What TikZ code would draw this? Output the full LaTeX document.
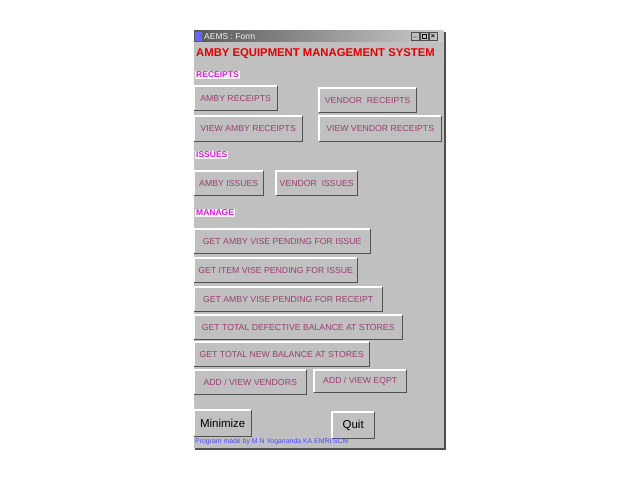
\documentclass[tikz,border=0pt]{standalone}
\usepackage{fontspec}
\setmainfont{Liberation Sans}
\definecolor{formbg}{HTML}{C0C0C0}
\definecolor{btntxt}{HTML}{9A4070}
\definecolor{magtxt}{HTML}{E020E0}
\definecolor{shadow}{HTML}{505050}
\begin{document}
\begin{tikzpicture}[x=1pt,y=-1pt,
  btn/.style={anchor=north west,inner sep=0pt,fill=formbg,
    text=btntxt,font=\fontsize{8.7}{9}\selectfont,align=center},
  bigbtn/.style={btn,text=black,font=\fontsize{11.5}{12}\selectfont},
  lbl/.style={anchor=west,inner sep=1pt,fill=white!80!formbg,text=magtxt,font=\bfseries\fontsize{8.5}{9}\selectfont}]
\useasboundingbox (0,0) rectangle (638,478);
\fill[white] (0,0) rectangle (638,478);
% window
\fill[shadow] (195,32) rectangle (446,450);
\fill[formbg] (193,30) rectangle (444,448);
\draw[white] (193,448)--(193,30)--(444,30);
\shade[left color=gray!70!black,right color=gray!40] (194,31) rectangle (443,42);
\node[anchor=west,inner sep=0pt,text=white!90!gray,font=\fontsize{8.5}{9}\selectfont] (title) at (204,36.5) {AEMS : Form};
\fill[blue!60!white] (195,32) rectangle (202,41);
\foreach \bx in {411,420,429}{
  \draw[fill=formbg,draw=black!70] (\bx,32.5) rectangle (\bx+8,40.5);}
\node[font=\fontsize{6}{6}\selectfont,inner sep=0pt] (mn) at (415,37) {\_};
\node[draw=black,inner sep=0pt,minimum width=4pt,minimum height=4pt] (mx) at (424,36.5) {};
\node[font=\bfseries\fontsize{7}{7}\selectfont,inner sep=0pt] (cl) at (433,36.5) {×};
\node[anchor=west,inner sep=0pt,text=red!90!black,font=\bfseries\fontsize{11.3}{12}\selectfont] (head) at (196,54) {AMBY EQUIPMENT MANAGEMENT SYSTEM};
\node[lbl] (rc) at (195,75) {RECEIPTS};
\node[lbl] (is) at (195,155) {ISSUES};
\node[lbl] (mg) at (195,213) {MANAGE};
\node[btn,minimum width=83pt,minimum height=24pt] (b1) at (194,86) {AMBY RECEIPTS};
\node[btn,minimum width=97pt,minimum height=24pt] (b2) at (319,88) {VENDOR\ \ RECEIPTS};
\node[btn,minimum width=108pt,minimum height=25pt] (b3) at (194,116) {VIEW AMBY RECEIPTS};
\node[btn,minimum width=122pt,minimum height=25pt] (b4) at (319,116) {VIEW VENDOR RECEIPTS};
\node[btn,minimum width=69pt,minimum height=24pt] (b5) at (194,171) {AMBY ISSUES};
\node[btn,minimum width=81pt,minimum height=24pt] (b6) at (276,171) {VENDOR\ \ ISSUES};
\node[btn,minimum width=176pt,minimum height=24pt] (b7) at (194,229) {GET AMBY VISE PENDING FOR ISSUE};
\node[btn,minimum width=163pt,minimum height=24pt] (b8) at (194,258) {GET ITEM VISE PENDING FOR ISSUE};
\node[btn,minimum width=188pt,minimum height=24pt] (b9) at (194,287) {GET AMBY VISE PENDING FOR RECEIPT};
\node[btn,minimum width=208pt,minimum height=24pt] (b10) at (194,315) {GET TOTAL DEFECTIVE BALANCE AT STORES};
\node[btn,minimum width=175pt,minimum height=24pt] (b11) at (194,342) {GET TOTAL NEW BALANCE AT STORES};
\node[btn,minimum width=112pt,minimum height=24pt] (b12) at (194,370) {ADD / VIEW VENDORS};
\node[btn,minimum width=92pt,minimum height=22pt] (b13) at (314,370) {ADD / VIEW EQPT};
\node[bigbtn,minimum width=57pt,minimum height=26pt] (b14) at (194,410) {Minimize};
\node[bigbtn,minimum width=42pt,minimum height=26pt] (b15) at (332,412) {Quit};
\foreach \n in {b1,b2,b3,b4,b5,b6,b7,b8,b9,b10,b11,b12,b13,b14,b15}{
  \draw[white,line width=1.2pt] (\n.south west)--(\n.north west)--(\n.north east);
  \draw[shadow,line width=1.6pt] (\n.north east)--(\n.south east)--(\n.south west);}
\node[anchor=west,inner sep=0pt,text=blue!70!white,font=\fontsize{6.9}{7}\selectfont] (foot) at (195,441.5) {Program made by M N Yogananda KA EMRI SCM};
\end{tikzpicture}
\end{document}
